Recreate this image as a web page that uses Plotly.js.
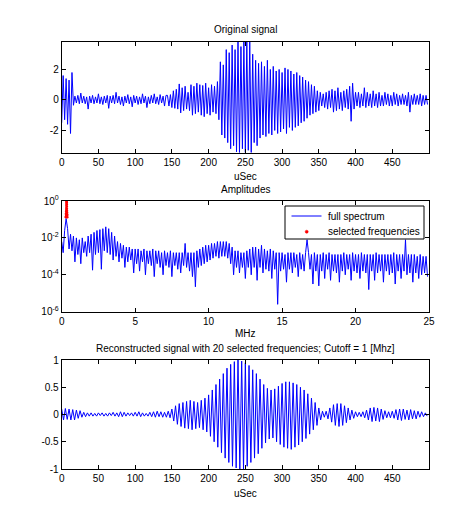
<!DOCTYPE html>
<html>
<head>
<meta charset="utf-8">
<script src="https://cdn.plot.ly/plotly-3.0.1.min.js"></script>
<style>
  html, body { margin: 0; padding: 0; background: #fff; }
  #chart { width: 474px; height: 530px; }
</style>
</head>
<body>
<div id="chart"></div>
<script>
// Original measured signal: one value every 2 uSec (successive extremes of the trace)
const origStepUs = 2;
const origSignal = [
  -1.5, 1.6, -1.3, 1.4, -1.6, 1.3, -2.2, 1.8,
  -0.35, 0.25, -0.2, 0.3, -0.25, 0.45, -0.2, 0.25,
  -0.25, 0.2, -0.6, 0.25, -0.2, 0.3, -0.25, 0.2,
  -0.2, 0.4, -0.25, 0.2, -0.3, 0.25, -0.2, 0.3,
  -0.55, 0.25, -0.2, 0.3, -0.25, 0.5, -0.2, 0.25,
  -0.3, 0.2, -0.4, 0.25, -0.2, 0.35, -0.25, 0.2,
  -0.45, 0.3, -0.2, 0.25, -0.3, 0.2, -0.25, 0.4,
  -0.2, 0.25, -0.5, 0.2, -0.25, 0.3, -0.2, 0.4,
  -0.25, 0.2, -0.3, 0.35, -0.2, 0.25, -0.4, 0.3,
  0.3, -0.4, 0.35, -0.5, 0.6, -0.55, 0.7, -0.6,
  1.05, -0.85, 0.8, -0.7, 0.9, -0.6, 0.5, -0.7,
  1.0, -1.0, 0.9, -0.9, 1.1, -0.8, 1.0, -1.0,
  0.95, -1.1, 1.1, -0.9, 0.8, -1.0, 1.0, -0.8,
  0.9, -0.9, 1.2, -1.3, 2.5, -2.3, 2.3, -2.5,
  3.3, -2.8, 3.1, -3.2, 3.6, -3.0, 3.3, -3.4,
  3.8, -3.45, 3.5, -3.2, 3.8, -3.45, 3.8, -3.3,
  3.8, -3.45, 3.0, -2.8, 2.6, -3.0, 2.4, -2.5,
  2.5, -2.3, 2.2, -2.4, 2.6, -2.2, 2.0, -2.3,
  2.2, -2.0, 1.9, -2.2, 2.0, -2.1, 1.8, -1.9,
  2.1, -2.2, 2.0, -1.8, 1.9, -2.0, 1.7, -1.8,
  1.8, -1.7, 1.6, -1.5, 1.5, -1.4, 1.3, -1.2,
  1.2, -1.0, 1.0, -0.9, 0.9, -0.8, 0.6, -0.7,
  0.5, -0.4, 0.4, -0.5, 0.5, -0.6, 0.6, -0.5,
  0.7, -0.8, 0.6, -0.7, 0.8, -0.6, 0.5, -0.7,
  0.6, -0.5, 0.7, -0.6, 0.9, -1.4, 1.1, -0.6,
  0.5, -0.4, 0.5, -0.5, 0.4, -0.4, 0.8, -0.5,
  0.5, -0.4, 0.4, -0.5, 0.6, -0.4, 0.4, -0.5,
  0.5, -0.4, 0.3, -0.4, 0.5, -0.3, 0.4, -0.4,
  0.3, -0.4, 0.5, -0.3, 0.4, -0.4, 0.3, -0.3,
  0.4, -0.3, 0.3, -0.4, 0.5, -0.8, 0.3, -0.3,
  0.4, -0.3, 0.3, -0.3, 0.4, -0.4, 0.3, -0.3, 0.3, -0.3
];

// Amplitude spectrum, log10 of amplitude, one value every 0.1 MHz
const specStepMHz = 0.1;
const spectrumLog10 = [
  -2.2, -2.8, -1.6, -0.95, -1.5, -2.6, -1.8, -2.7, -1.9, -3.3,
  -2.0, -2.9, -2.1, -3.4, -2.0, -2.8, -2.2, -3.0, -1.9, -2.8,
  -1.8, -3.75, -1.7, -2.9, -1.6, -2.8, -1.55, -3.7, -1.5, -2.7,
  -1.4, -2.8, -1.5, -2.9, -1.7, -3.2, -1.9, -3.0, -2.2, -3.3,
  -2.3, -3.1, -2.4, -3.6, -2.5, -3.3, -2.5, -3.2, -2.6, -3.9,
  -2.6, -3.4, -2.6, -3.8, -2.7, -3.3, -2.6, -4.0, -2.7, -3.4,
  -2.7, -3.5, -2.6, -4.1, -2.7, -3.4, -2.7, -3.6, -2.8, -4.0,
  -2.7, -3.5, -2.8, -3.6, -2.7, -4.1, -2.8, -3.5, -2.8, -3.7,
  -2.8, -3.9, -2.8, -3.5, -2.3, -3.6, -2.8, -3.8, -2.8, -4.1,
  -2.8, -4.65, -2.7, -3.6, -2.6, -3.5, -2.5, -3.4, -2.4, -3.3,
  -2.4, -3.2, -2.3, -3.1, -2.3, -3.0, -2.2, -3.1, -2.2, -3.0,
  -2.2, -3.0, -2.2, -3.1, -2.3, -3.4, -2.5, -4.0, -2.7, -3.6,
  -2.7, -3.9, -2.8, -3.6, -2.8, -4.2, -2.7, -3.6, -2.6, -4.0,
  -2.5, -3.6, -2.5, -4.3, -2.6, -3.6, -2.4, -3.9, -2.6, -3.7,
  -2.7, -3.8, -2.6, -4.2, -2.7, -3.7, -2.8, -5.6, -2.8, -3.8,
  -2.8, -3.7, -2.9, -4.4, -2.8, -3.7, -2.8, -3.9, -2.8, -3.6,
  -2.9, -4.1, -2.8, -3.7, -2.9, -3.8, -2.8, -2.1, -2.8, -3.7,
  -2.9, -4.5, -2.8, -3.8, -2.9, -4.6, -2.9, -3.8, -2.8, -4.2,
  -2.9, -3.7, -2.8, -4.3, -2.9, -3.8, -2.9, -3.9, -2.9, -4.4,
  -2.9, -3.8, -2.8, -4.0, -2.9, -3.7, -2.9, -4.3, -2.8, -3.8,
  -2.9, -3.9, -2.9, -4.2, -2.8, -3.8, -2.9, -3.9, -2.9, -4.8,
  -2.9, -3.8, -2.9, -4.3, -2.8, -3.9, -2.9, -3.8, -2.9, -4.4,
  -2.9, -3.8, -2.9, -4.0, -2.9, -3.9, -2.8, -4.5, -2.9, -3.8,
  -2.9, -4.2, -2.9, -3.8, -2.1, -4.0, -2.9, -3.9, -2.9, -4.4,
  -2.9, -3.9, -3.0, -4.2, -2.9, -4.0, -3.0, -3.9, -3.0, -4.1
];

// The 20 frequencies kept below the 1 MHz cutoff
const selectedFreqMHz = [
  0.285, 0.29, 0.295, 0.30, 0.305, 0.31, 0.315, 0.32, 0.325, 0.33,
  0.335, 0.34, 0.345, 0.35, 0.355, 0.36, 0.365, 0.37, 0.375, 0.38
];
const selectedAmp = [
  0.13, 0.15, 0.18, 0.22, 0.27, 0.33, 0.42, 0.55, 0.72, 0.9,
  1.0, 0.85, 0.66, 0.5, 0.38, 0.3, 0.24, 0.19, 0.16, 0.13
];

// Reconstructed signal: one value every 2.5 uSec
const reconStepUs = 2.5;
const reconSignal = [
  0.1, -0.1, 0.11, -0.09, 0.1, -0.1, 0.09, -0.1, 0.08, -0.07, 0.07, -0.05,
  0.04, -0.04, 0.03, -0.03, 0.03, -0.03, 0.02, -0.03,
  0.03, -0.02, 0.03, -0.03, 0.02, -0.03, 0.03, -0.02, 0.04, -0.03,
  0.03, -0.04, 0.05, -0.04, 0.04, -0.03, 0.03, -0.02, 0.03, -0.03,
  0.04, -0.03, 0.05, -0.04, 0.03, -0.03, 0.02, -0.03, 0.04, -0.04,
  0.05, -0.05, 0.06, -0.04, 0.05, -0.05, 0.04, -0.05, 0.06, -0.06,
  0.1, -0.12, 0.16, -0.18, 0.2, -0.22, 0.22, -0.25, 0.24, -0.26,
  0.26, -0.28, 0.24, -0.26, 0.22, -0.24, 0.26, -0.28, 0.3, -0.32,
  0.36, -0.4, 0.45, -0.5, 0.55, -0.6, 0.65, -0.7, 0.75, -0.8,
  0.85, -0.88, 0.92, -0.95, 0.97, -0.98, 1.0, -1.0, 0.98, -1.0,
  0.95, -0.95, 0.9, -0.88, 0.82, -0.8, 0.75, -0.72, 0.65, -0.62,
  0.55, -0.52, 0.48, -0.45, 0.45, -0.43, 0.47, -0.5, 0.52, -0.55,
  0.57, -0.6, 0.6, -0.62, 0.6, -0.64, 0.58, -0.6, 0.55, -0.56,
  0.5, -0.5, 0.45, -0.44, 0.38, -0.36, 0.3, -0.28, 0.22, -0.2,
  0.12, -0.1, 0.06, -0.05, 0.06, -0.08, 0.12, -0.14, 0.18, -0.2,
  0.2, -0.22, 0.2, -0.2, 0.16, -0.15, 0.12, -0.1, 0.08, -0.07,
  0.05, -0.04, 0.04, -0.04, 0.05, -0.06, 0.08, -0.1, 0.12, -0.13,
  0.13, -0.12, 0.12, -0.13, 0.1, -0.09, 0.07, -0.06, 0.05, -0.06,
  0.06, -0.07, 0.09, -0.1, 0.1, -0.11, 0.1, -0.09, 0.08, -0.1,
  0.09, -0.08, 0.07, -0.08, 0.06, -0.05, 0.05, -0.04, 0.03, -0.03
];

// Tick labels
const timeTicks = [0, 50, 100, 150, 200, 250, 300, 350, 400, 450];
const freqTicks = [0, 5, 10, 15, 20, 25];
const origYTicks = [-2, 0, 2];
const origYText = ['-2', '0', '2'];
const ampYTicks = [1e-6, 1e-4, 1e-2, 1];
const ampYText = ['10<sup>-6</sup>', '10<sup>-4</sup>', '10<sup>-2</sup>', '10<sup>0</sup>'];
const reconYTicks = [-1, -0.5, 0, 0.5, 1];
const reconYText = ['-1', '-0.5', '0', '0.5', '1'];
const legendLabels = ['full spectrum', 'selected frequencies'];

// Build x coordinates from the sample spacing
const origTime = origSignal.map((_, i) => i * origStepUs);
const specFreq = spectrumLog10.map((_, i) => i * specStepMHz);
const specAmp = spectrumLog10.map(v => Math.pow(10, v));
const reconTime = reconSignal.map((_, i) => i * reconStepUs);

const BLUE = '#0000ff';
const RED = '#ff0000';
const FONT = 'Liberation Sans, Arial, Helvetica, sans-serif';

const traces = [
  { x: origTime, y: origSignal, xaxis: 'x', yaxis: 'y', type: 'scatter', mode: 'lines',
    line: { color: BLUE, width: 1, simplify: false }, showlegend: false },
  { x: specFreq, y: specAmp, xaxis: 'x2', yaxis: 'y2', type: 'scatter', mode: 'lines',
    name: legendLabels[0], line: { color: BLUE, width: 1, simplify: false }, showlegend: false },
  { x: selectedFreqMHz, y: selectedAmp, xaxis: 'x2', yaxis: 'y2', type: 'scatter', mode: 'markers',
    name: legendLabels[1], marker: { color: RED, size: 2.5 }, showlegend: false },
  { x: reconTime, y: reconSignal, xaxis: 'x3', yaxis: 'y3', type: 'scatter', mode: 'lines',
    line: { color: BLUE, width: 1, simplify: false }, showlegend: false }
];

const W = 474, H = 530;
const px = v => v / W;           // horizontal pixel -> paper
const py = v => 1 - v / H;       // vertical pixel -> paper

const axisBase = {
  showline: true, linecolor: '#000', linewidth: 1, mirror: 'ticks',
  ticks: 'inside', ticklen: 4, tickwidth: 1, tickcolor: '#000',
  showgrid: false, zeroline: false, fixedrange: true,
  tickfont: { family: FONT, size: 10, color: '#000' }
};

const xDom = [px(61.7), px(429)];

// Boxed key in the upper right of the spectrum panel
const keyShapes = [
  { type: 'rect', xref: 'paper', yref: 'paper', layer: 'above',
    x0: px(285), x1: px(424), y0: py(239), y1: py(206),
    line: { color: '#000', width: 1 }, fillcolor: '#fff' },
  { type: 'line', xref: 'paper', yref: 'paper', layer: 'above',
    x0: px(291.5), x1: px(321.5), y0: py(216), y1: py(216),
    line: { color: BLUE, width: 1 } },
  { type: 'circle', xref: 'paper', yref: 'paper', layer: 'above',
    x0: px(305.2), x1: px(308.2), y0: py(233.2), y1: py(230.2),
    line: { color: RED, width: 0.5 }, fillcolor: RED }
];

const textItem = (t, x, y, anchor) => ({
  text: t, xref: 'paper', yref: 'paper', x: px(x), y: py(y),
  xanchor: anchor, yanchor: 'middle', showarrow: false,
  font: { family: FONT, size: 10, color: '#000' }
});

const layout = {
  width: W, height: H,
  margin: { l: 0, r: 0, t: 0, b: 0 },
  paper_bgcolor: '#fff', plot_bgcolor: '#fff',
  font: { family: FONT, size: 10, color: '#000' },
  showlegend: false,
  xaxis: Object.assign({}, axisBase, { domain: xDom, anchor: 'y', range: [0, 500], tickvals: timeTicks }),
  yaxis: Object.assign({}, axisBase, { domain: [py(152.7), py(42)], anchor: 'x', range: [-3.46, 3.8],
    tickvals: origYTicks, ticktext: origYText }),
  xaxis2: Object.assign({}, axisBase, { domain: xDom, anchor: 'y2', range: [0, 25], tickvals: freqTicks }),
  yaxis2: Object.assign({}, axisBase, { domain: [py(311.7), py(201)], anchor: 'x2', type: 'log', range: [-6, 0],
    tickvals: ampYTicks, ticktext: ampYText }),
  xaxis3: Object.assign({}, axisBase, { domain: xDom, anchor: 'y3', range: [0, 500], tickvals: timeTicks }),
  yaxis3: Object.assign({}, axisBase, { domain: [py(469), py(360)], anchor: 'x3', range: [-1, 1],
    tickvals: reconYTicks, ticktext: reconYText }),
  shapes: keyShapes,
  annotations: [
    textItem('Original signal', 245.3, 30, 'center'),
    textItem('uSec', 245.3, 176.5, 'center'),
    textItem('Amplitudes', 245.3, 189.5, 'center'),
    textItem('MHz', 245.3, 333.5, 'center'),
    textItem('Reconstructed signal with 20 selected frequencies; Cutoff = 1 [Mhz]', 245.3, 348.5, 'center'),
    textItem('uSec', 245.3, 493, 'center'),
    textItem(legendLabels[0], 325.5, 216, 'left'),
    textItem(legendLabels[1], 325.5, 231.5, 'left')
  ]
};

Plotly.newPlot('chart', traces, layout, { staticPlot: true, displayModeBar: false });
</script>
</body>
</html>
